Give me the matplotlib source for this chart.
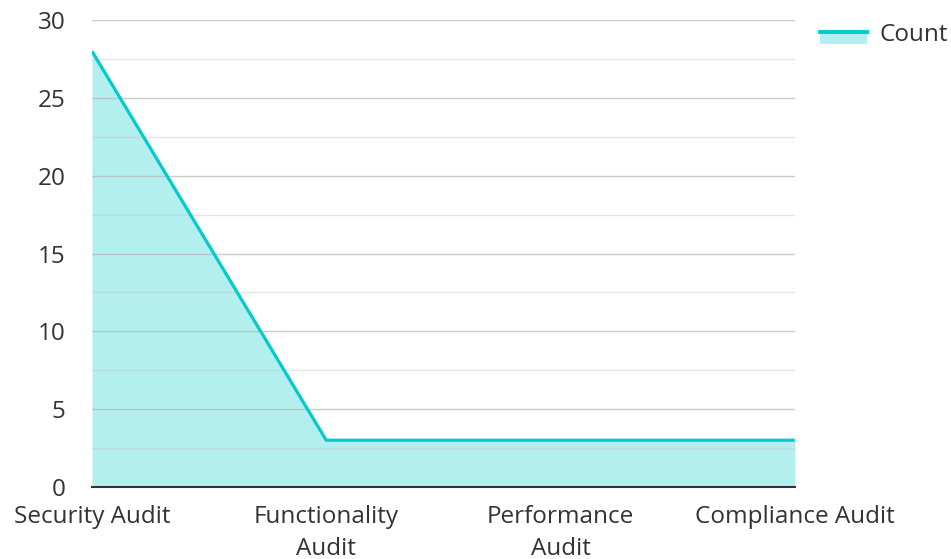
import numpy as np
import matplotlib.pyplot as plt
from matplotlib.legend_handler import HandlerBase
from matplotlib.patches import Rectangle
from matplotlib.lines import Line2D

plt.rcParams['font.family'] = ['Open Sans', 'DejaVu Sans']

# data
categories = ['Security Audit', 'Functionality\nAudit', 'Performance\nAudit', 'Compliance Audit']
counts = [28, 3, 3, 3]
series_name = 'Count'

LINE = '#00CCCC'
FILL = '#B2EFEE'
TEXT = '#333333'
FS = 17.5


class AreaHandler(HandlerBase):
    # legend key: pale band with the line sitting on top of it
    def create_artists(self, legend, orig_handle, xd, yd, width, height, fontsize, trans):
        top = yd + height * 0.5
        bot = top - 8
        rect = Rectangle((xd, bot), width, top - bot, facecolor=FILL, edgecolor='none', transform=trans)
        line = Line2D([xd, xd + width], [top, top], color=LINE, lw=2.8, transform=trans)
        return [rect, line]


fig = plt.figure(figsize=(9.51, 5.59), dpi=100)
ax = fig.add_axes([0.0967, 0.129, 0.739, 0.835])

x = np.arange(len(categories))
ax.fill_between(x, counts, 0, color=FILL, lw=0, zorder=1)
ax.plot(x, counts, color=LINE, lw=2.3, zorder=3, solid_capstyle='butt')

ax.set_xlim(0, len(categories) - 1)
ax.set_ylim(0, 30)
ax.set_yticks(np.arange(0, 31, 5))
ax.set_yticks(np.arange(2.5, 30, 5), minor=True)
ax.set_xticks(x)
ax.set_xticklabels(categories, linespacing=1.45)

ax.grid(axis='y', which='major', color='#b4b4b4', lw=1, alpha=0.7, zorder=2)
ax.grid(axis='y', which='minor', color='#c8c8c8', lw=1, alpha=0.45, zorder=2)
ax.set_axisbelow(False)

for s in ['top', 'right', 'left']:
    ax.spines[s].set_visible(False)
ax.spines['bottom'].set_color(TEXT)
ax.spines['bottom'].set_linewidth(1.5)
ax.spines['bottom'].set_zorder(4)

ax.tick_params(axis='both', which='both', length=0, labelsize=FS, colors=TEXT)
ax.tick_params(axis='x', pad=13)
ax.tick_params(axis='y', pad=19)

fig.legend([Rectangle((0, 0), 1, 1)], [series_name], handler_map={Rectangle: AreaHandler()},
           loc='upper left', bbox_to_anchor=(820 / 951, 1 - 23 / 559), bbox_transform=fig.transFigure,
           frameon=False, borderpad=0, borderaxespad=0,
           fontsize=FS, handlelength=1.95, handleheight=0.7, handletextpad=0.5, labelcolor=TEXT)

plt.savefig('out.png', dpi=100)
